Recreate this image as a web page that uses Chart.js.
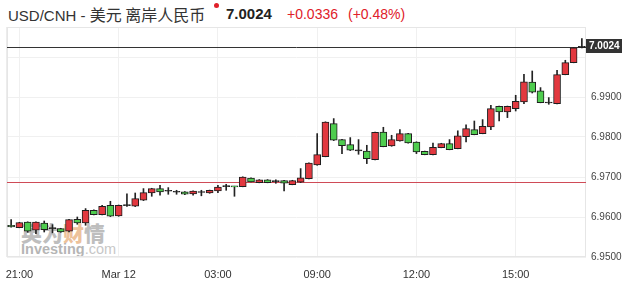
<!DOCTYPE html>
<html><head><meta charset="utf-8">
<script src="https://cdn.jsdelivr.net/npm/chart.js@4/dist/chart.umd.min.js"></script>
<style>
html,body{margin:0;padding:0;background:#fff;width:642px;height:297px;overflow:hidden;}
#wrap{position:relative;width:642px;height:297px;}
.h{position:absolute;top:4px;line-height:20px;white-space:nowrap;font-family:"Liberation Sans","Noto Sans CJK SC",sans-serif;}
#t1{left:8px;font-size:15px;color:#333;}
#t1 .cj{font-family:"Noto Sans CJK SC",sans-serif;font-size:16px;}
#dot{position:absolute;left:214px;top:3px;width:5px;height:5px;border-radius:50%;background:#e0202a;}
#px{left:226px;font-size:15px;font-weight:bold;color:#222;}
#chg{left:287px;font-size:14px;color:#e0202a;}
#pct{left:348px;font-size:14px;color:#e0202a;}
#wm{position:absolute;left:21px;top:221px;font-family:"Noto Sans CJK SC",sans-serif;opacity:0.55;z-index:0;}
#wm .cn{font-size:21px;font-weight:900;color:#8a8a8a;line-height:22px;}
#wm .en{font-family:"Liberation Sans",sans-serif;font-size:14.5px;font-weight:bold;color:#7a7a7a;line-height:12px;}
#wm .en span{font-weight:normal;color:#999;}
canvas{position:absolute;left:0;top:0;z-index:1;}
</style></head>
<body><div id="wrap">
<div id="wm"><div class="cn">英为<span style="color:#e0914a">财</span>情</div><div class="en">Investing<span>.com</span></div></div>
<canvas id="c" width="642" height="297"></canvas>
<div class="h" id="t1">USD/CNH - <span class="cj">美元 离岸人民币</span></div>
<div id="dot"></div>
<div class="h" id="px">7.0024</div>
<div class="h" id="chg">+0.0336</div>
<div class="h" id="pct">(+0.48%)</div>
</div>
<script>
const categories = Array.from({length:70},(_,i)=>'k'+i);
const tickIndex = [1,13,25,37,49,61];
const tickText = ['21:00','Mar 12','03:00','09:00','12:00','15:00'];
const yTicks = [6.95,6.96,6.97,6.98,6.99,7.00];
const yTickLabels = ['6.9500','6.9600','6.9700','6.9800','6.9900',''];
const prevClose = 6.9688;
const lastPrice = 7.0024;
const lastPriceLabel = '7.0024';

const opens = [
6.95793,6.95735,6.95875,6.95668,6.95850,6.95710,6.95710,6.95643,6.95943,6.95850,
6.96168,6.96060,6.96293,6.96025,6.96285,6.96268,6.96418,6.96600,6.96710,6.96643,
6.96618,6.96630,6.96580,6.96613,6.96600,6.96650,6.96760,6.96760,6.96760,6.96975,
6.96860,6.96930,6.96885,6.96910,6.96810,6.96868,6.96960,6.97300,6.97510,6.98335,
6.97935,6.97810,6.97655,6.97650,6.97435,6.98125,6.97775,6.97900,6.98085,6.97875,
6.97643,6.97560,6.97735,6.97835,6.97710,6.98010,6.98185,6.98085,6.98250,6.98768,
6.98625,6.98710,6.98875,6.99375,6.99155,6.98850,6.98835,6.99560,6.99860,7.00240];
const highs = [
6.95935,6.95868,6.95880,6.95880,6.95900,6.95810,6.95718,6.95943,6.96000,6.96210,
6.96180,6.96293,6.96393,6.96300,6.96580,6.96600,6.96710,6.96718,6.96793,6.96735,
6.96668,6.96635,6.96655,6.96668,6.96673,6.96793,6.96818,6.96768,6.97005,6.96980,
6.96935,6.96935,6.96930,6.96918,6.96918,6.97210,6.97355,6.98085,6.98380,6.98460,
6.97943,6.97985,6.97935,6.97793,6.98123,6.98243,6.98043,6.98185,6.98093,6.97880,
6.97648,6.97850,6.97843,6.97935,6.98155,6.98305,6.98400,6.98435,6.98793,6.98773,
6.98773,6.99043,6.99568,6.99650,6.99235,6.98985,6.99668,6.99918,7.00235,7.00460];
const lows = [
6.95743,6.95730,6.95618,6.95585,6.95625,6.95600,6.95618,6.95630,6.95818,6.95793,
6.96050,6.96055,6.96010,6.96018,6.96263,6.96260,6.96410,6.96518,6.96543,6.96568,
6.96568,6.96560,6.96543,6.96530,6.96593,6.96610,6.96668,6.96518,6.96755,6.96875,
6.96855,6.96855,6.96843,6.96650,6.96805,6.96860,6.96955,6.97293,6.97505,6.97910,
6.97585,6.97660,6.97568,6.97335,6.97430,6.97755,6.97768,6.97893,6.97843,6.97585,
6.97555,6.97555,6.97730,6.97680,6.97705,6.97875,6.98055,6.98080,6.98185,6.98400,
6.98485,6.98650,6.98835,6.99100,6.98855,6.98818,6.98830,6.99555,6.99855,7.00230];
const closes = [
6.95755,6.95860,6.95643,6.95875,6.95685,6.95712,6.95625,6.95935,6.95850,6.96168,
6.96060,6.96268,6.96018,6.96293,6.96287,6.96460,6.96610,6.96710,6.96625,6.96645,
6.96620,6.96568,6.96650,6.96615,6.96668,6.96750,6.96762,6.96755,6.97000,6.96880,
6.96930,6.96860,6.96887,6.96843,6.96910,6.96980,6.97350,6.97560,6.98375,6.97918,
6.97785,6.97668,6.97657,6.97460,6.98118,6.97760,6.97935,6.98085,6.97850,6.97625,
6.97560,6.97743,6.97835,6.97685,6.98030,6.98210,6.98060,6.98268,6.98710,6.98630,
6.98768,6.98893,6.99380,6.99118,6.98860,6.98852,6.99560,6.99860,7.00230,7.00240];

const UP = '#e2383f', DOWN = '#4fcd4f', DOJI = '#222';
const bodyColors = opens.map((o,i)=> Math.abs(closes[i]-o) < 0.00004 ? DOJI : (closes[i] > o ? UP : DOWN));

const decor = {
  id:'decor',
  beforeDatasetsDraw(chart){
    const {ctx, chartArea:a, scales:{y}} = chart;
    ctx.save();
    ctx.strokeStyle = '#e6e6e6'; ctx.lineWidth = 1;
    ctx.strokeRect(a.left+0.5, a.top+0.5, a.right-a.left-1, a.bottom-a.top-1);
    ctx.strokeStyle = '#ececec';
    ctx.beginPath(); ctx.moveTo(a.left-0.5, a.top); ctx.lineTo(a.left-0.5, a.bottom); ctx.stroke();
    const yp = Math.round(y.getPixelForValue(prevClose)) + 0.5;
    ctx.strokeStyle = '#cf4b57';
    ctx.beginPath(); ctx.moveTo(a.left, yp); ctx.lineTo(a.right, yp); ctx.stroke();
    const yl = Math.round(y.getPixelForValue(lastPrice)) + 0.5;
    ctx.strokeStyle = '#333';
    ctx.beginPath(); ctx.moveTo(a.left, yl); ctx.lineTo(a.right, yl); ctx.stroke();
    ctx.restore();
  },
  afterDraw(chart){
    const {ctx, chartArea:a, scales:{y}} = chart;
    const yl = Math.round(y.getPixelForValue(lastPrice));
    ctx.save();
    ctx.fillStyle = '#333';
    ctx.fillRect(a.right, yl-8, 36, 14);
    ctx.fillStyle = '#fff';
    ctx.font = 'bold 10px "Liberation Sans", sans-serif';
    ctx.textBaseline = 'middle';
    ctx.fillText(lastPriceLabel, a.right+3, yl-0.5);
    ctx.restore();
  }
};

new Chart(document.getElementById('c'), {
  type:'bar',
  data:{
    labels: categories,
    datasets:[
      {
        label:'body',
        data: opens.map((o,i)=>[o, closes[i]]),
        backgroundColor: bodyColors,
        borderColor:'#1e1e1e',
        borderWidth:1,
        borderSkipped:false,
        barThickness:7,
        minBarLength:1,
        grouped:false,
        order:0
      },
      {
        label:'wick',
        data: lows.map((l,i)=>[l, highs[i]]),
        backgroundColor:'#222',
        borderWidth:0,
        barThickness:1,
        grouped:false,
        order:1
      }
    ]
  },
  options:{
    responsive:false,
    animation:false,
    events:[],
    layout:{padding:{left:7, top:27, right:0, bottom:0}},
    plugins:{legend:{display:false}, tooltip:{enabled:false}},
    scales:{
      x:{
        offset:true,
        grid:{offset:false, drawTicks:false, color:(c)=> tickIndex.includes(c.index) ? '#f0f0f0' : 'rgba(0,0,0,0)'},
        border:{display:false},
        ticks:{autoSkip:false, maxRotation:0, padding:11, color:'#333',
          font:{family:'"Liberation Sans", sans-serif', size:11},
          callback:(v,i)=>{ const k = tickIndex.indexOf(i); return k>=0 ? tickText[k] : ''; }},
        afterFit:(s)=>{ s.height = 40; }
      },
      y:{
        position:'right',
        min:6.95, max:7.0075,
        afterBuildTicks:(s)=>{ s.ticks = yTicks.map(v=>({value:v})); },
        grid:{drawTicks:false, color:'#f0f0f0'},
        border:{display:false},
        ticks:{padding:5, color:'#444',
          font:{family:'"Liberation Sans", sans-serif', size:10},
          callback:(v)=>{ const k = yTicks.findIndex(t=>Math.abs(t-v)<1e-6); return k>=0 ? yTickLabels[k] : ''; }},
        afterFit:(s)=>{ s.width = 56; }
      }
    }
  },
  plugins:[decor]
});
</script>
</body></html>
